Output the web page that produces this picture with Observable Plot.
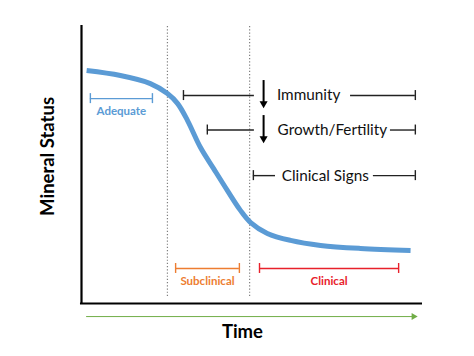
<!DOCTYPE html>
<html>
<head>
<meta charset="utf-8">
<script src="https://cdn.jsdelivr.net/npm/d3@7"></script>
<script src="https://cdn.jsdelivr.net/npm/@observablehq/plot@0.6"></script>
<style>
  html, body { margin: 0; padding: 0; background: #fff; }
</style>
</head>
<body>
<div id="chart"></div>
<script>
// Mineral status curve over time (arbitrary units 0–100)
const curveTime   = [1.5, 11.4, 20.2, 25.2, 28.2, 31.1, 34.9, 38.7, 42.8, 46.6, 49.6, 54.5, 61.3, 70.1, 81.8, 96.5];
const curveStatus = [83.8, 82.0, 79.1, 75.5, 71.9, 65.8, 56.1, 48.6, 40.6, 33.5, 29.1, 25.2, 22.7, 20.9, 19.8, 19.1];

// Phase boundaries (dotted lines)
const phaseBoundaries = [25.2, 49.3];

// Phase ranges below the curve
const phaseLabels = ["Adequate", "Subclinical", "Clinical"];
const phaseStart  = [2.6, 27.6, 52.2];
const phaseEnd    = [20.8, 46.3, 93.0];
const phaseLevel  = [73.7, 12.6, 12.6];
const phaseColors = ["#5b9bd5", "#ed7d31", "#e8212b"];

// Effects ranges on the right
const effectLabels     = ["Immunity", "Growth/Fertility", "Clinical Signs"];
const effectLevel      = [74.8, 62.4, 46.0];
const effectStart      = [29.9, 36.9, 50.4];
const effectLeftEnd    = [50.7, 50.7, 56.9];
const effectTextStart  = [57.3, 57.5, 58.7];
const effectRightStart = [78.9, 90.6, 85.6];
const effectEnd        = [97.9, 97.9, 97.9];
const arrowX           = 53.4;
const arrowTop         = [80.2, 67.6];
const arrowBottom      = [71.2, 58.6];

// Time arrow
const timeStart = 1.5, timeEnd = 97.4, timeLevel = -4.7;

const curve = curveTime.map((t, i) => ({t, s: curveStatus[i]}));
const phases = phaseLabels.map((label, i) => ({label, x1: phaseStart[i], x2: phaseEnd[i], y: phaseLevel[i], color: phaseColors[i]}));
const effects = effectLabels.map((label, i) => ({label, y: effectLevel[i], x1: effectStart[i], xl: effectLeftEnd[i], xt: effectTextStart[i], xr: effectRightStart[i], x2: effectEnd[i]}));
const arrows = arrowTop.map((top, i) => ({x: arrowX, top, bottom: arrowBottom[i]}));
const leftSegs = effects.map(d => ({y: d.y, x1: d.x1, x2: d.xl}));
const rightSegs = effects.map(d => ({y: d.y, x1: d.xr, x2: d.x2}));

const tickOpts = {insetTop: -5, insetBottom: -5};

const chart = Plot.plot({
  width: 474,
  height: 356,
  marginLeft: 81,
  marginRight: 52,
  marginTop: 25,
  marginBottom: 53,
  x: {domain: [0, 100], axis: null},
  y: {domain: [0, 100], axis: null},
  style: {fontFamily: "Lato, 'Open Sans', sans-serif", background: "#fff", overflow: "visible"},
  marks: [
    // dotted phase boundaries
    Plot.ruleX(phaseBoundaries, {x: d => d, y1: 2.5, y2: 100, stroke: "#7f7f7f", strokeWidth: 1.2, strokeDasharray: "1.2,2"}),
    // axes
    Plot.ruleX([0], {x: d => d, y1: 0, y2: 100, stroke: "#000", strokeWidth: 2.2}),
    Plot.ruleY([0], {y: d => d, x1: -0.3, x2: 100, stroke: "#000", strokeWidth: 2.2}),
    // time arrow
    Plot.ruleY([timeLevel], {y: d => d, x1: timeStart, x2: timeEnd, stroke: "#70ad47", strokeWidth: 1}),
    Plot.dot([timeEnd], {x: d => d, y: timeLevel, symbol: "triangle", rotate: 90, r: 2.6, fill: "#70ad47", stroke: "none"}),
    // curve
    Plot.line(curve, {x: "t", y: "s", curve: "catmull-rom", stroke: "#5b9bd5", strokeWidth: 5, strokeLinecap: "butt"}),
    // phase bars
    Plot.ruleY(phases, {y: "y", x1: "x1", x2: "x2", stroke: "color", strokeWidth: 1.4}),
    Plot.ruleX(phases, {x: "x1", y1: "y", y2: "y", stroke: "color", strokeWidth: 1.4, ...tickOpts}),
    Plot.ruleX(phases, {x: "x2", y1: "y", y2: "y", stroke: "color", strokeWidth: 1.4, ...tickOpts}),
    Plot.text(phases, {x: d => (d.x1 + d.x2) / 2, y: "y", text: "label", fill: "color", dy: 13, fontSize: 11.5, fontWeight: "bold"}),
    // effect bars
    Plot.ruleY(leftSegs, {y: "y", x1: "x1", x2: "x2", stroke: "#222", strokeWidth: 1.4}),
    Plot.ruleX(leftSegs, {x: "x1", y1: "y", y2: "y", stroke: "#222", strokeWidth: 1.4, ...tickOpts}),
    Plot.ruleY(rightSegs, {y: "y", x1: "x1", x2: "x2", stroke: "#222", strokeWidth: 1.4}),
    Plot.ruleX(rightSegs, {x: "x2", y1: "y", y2: "y", stroke: "#222", strokeWidth: 1.4, ...tickOpts}),
    Plot.text(effects, {x: "xt", y: "y", text: "label", textAnchor: "start", fill: "#111", fontSize: 15.3}),
    // down arrows
    Plot.ruleX(arrows, {x: "x", y1: "top", y2: "bottom", stroke: "#000", strokeWidth: 2}),
    Plot.dot(arrows, {x: "x", y: "bottom", symbol: "triangle", rotate: 180, r: 3, fill: "#000", stroke: "none", dy: -2}),
    // axis titles
    Plot.text(["Mineral Status"], {x: -9.7, y: 52.9, text: d => d, rotate: -90, fontSize: 18.5, fontWeight: "bold", fill: "#000"}),
    Plot.text(["Time"], {x: 47.2, y: -10.4, text: d => d, fontSize: 18.5, fontWeight: "bold", fill: "#000"})
  ]
});
document.getElementById("chart").appendChild(chart);
</script>
</body>
</html>
